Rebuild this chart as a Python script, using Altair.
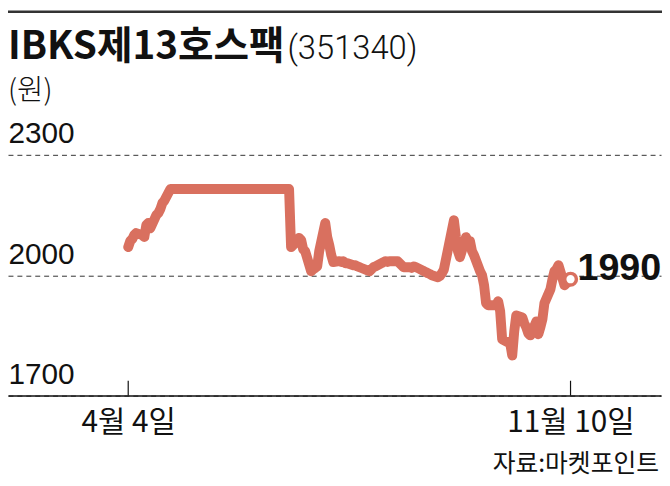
import altair as alt
import pandas as pd

# ---- data ----
dates = [
    "2022-04-04", "2022-04-05", "2022-04-06", "2022-04-07", "2022-04-08",
    "2022-04-11", "2022-04-12", "2022-04-13", "2022-04-14", "2022-04-15",
    "2022-04-18", "2022-04-19", "2022-04-20", "2022-04-21", "2022-04-22",
    "2022-04-25", "2022-06-23", "2022-06-24", "2022-06-27", "2022-06-28",
    "2022-06-29", "2022-06-30", "2022-07-01", "2022-07-04", "2022-07-05",
    "2022-07-06", "2022-07-07", "2022-07-08", "2022-07-11", "2022-07-12",
    "2022-07-13", "2022-07-14", "2022-07-15", "2022-07-18", "2022-07-19",
    "2022-07-20", "2022-07-21", "2022-07-22", "2022-07-25", "2022-07-26",
    "2022-07-27", "2022-07-28", "2022-07-29", "2022-08-01", "2022-08-02",
    "2022-08-03", "2022-08-04", "2022-08-05", "2022-08-08", "2022-08-09",
    "2022-08-10", "2022-08-11", "2022-08-12", "2022-08-16", "2022-08-17",
    "2022-08-18", "2022-08-19", "2022-08-22", "2022-08-23", "2022-08-24",
    "2022-08-25", "2022-08-26", "2022-08-29", "2022-08-30", "2022-08-31",
    "2022-09-01", "2022-09-02", "2022-09-05", "2022-09-06", "2022-09-07",
    "2022-09-08", "2022-09-13", "2022-09-14", "2022-09-15", "2022-09-16",
    "2022-09-19", "2022-09-20", "2022-09-21", "2022-09-22", "2022-09-23",
    "2022-09-26", "2022-09-27", "2022-09-28", "2022-09-29", "2022-09-30",
    "2022-10-04", "2022-10-05", "2022-10-06", "2022-10-07", "2022-10-11",
    "2022-10-12", "2022-10-13", "2022-10-14", "2022-10-17", "2022-10-18",
    "2022-10-19", "2022-10-20", "2022-10-21", "2022-10-24", "2022-10-25",
    "2022-10-26", "2022-10-27", "2022-10-28", "2022-10-31", "2022-11-01",
    "2022-11-02", "2022-11-03", "2022-11-04", "2022-11-07", "2022-11-08",
    "2022-11-09", "2022-11-10",
]
prices = [
    2070, 2085, 2090, 2100, 2105,
    2100, 2095, 2125, 2130, 2117,
    2150, 2155, 2165, 2180, 2186,
    2215, 2215, 2070, 2085, 2093,
    2088, 2065, 2060, 2010, 2015,
    2018, 2022, 2060, 2130, 2095,
    2075, 2050, 2033, 2035, 2033,
    2035, 2030, 2030, 2025, 2025,
    2022, 2020, 2018, 2012, 2010,
    2015, 2020, 2022, 2030, 2033,
    2035, 2033, 2035, 2035, 2030,
    2025, 2020, 2020, 2018, 2022,
    2020, 2018, 2010, 2008, 2005,
    2003, 2000, 1995, 1998, 2005,
    2014, 2137, 2095, 2060, 2045,
    2095, 2080, 2085, 2060, 2050,
    2010, 2000, 1975, 1930, 1925,
    1925, 1935, 1910, 1840, 1830,
    1800, 1860, 1900, 1895, 1880,
    1870, 1855, 1850, 1885, 1853,
    1870, 1890, 1930, 1965, 1990,
    2010, 2015, 2025, 1975, 1980,
    1985, 1990,
]
tick_dates = ["2022-04-04", "2022-11-10"]
y_ticks = [1700, 2000, 2300]
title_main = "IBKS제13호스팩"
title_code = "(351340)"
unit_label = "(원)"
source_label = "자료:마켓포인트"

LINE = "#D9705F"
SANS = "Liberation Sans, Arial, sans-serif"
LIGHT = "Roboto, Liberation Sans, sans-serif"
KR = "Noto Sans CJK KR, sans-serif"
W, H = 659, 243

df = pd.DataFrame({"date": dates, "price": prices})
last = df.tail(1).copy()
last["label"] = last["price"].astype(str)
ticks_df = pd.DataFrame({"date": tick_dates})

x_scale = alt.Scale(
    type="utc",
    domain=[alt.DateTime(year=2022, month=2, date=3, hours=5, utc=True),
            alt.DateTime(year=2022, month=12, date=25, utc=True)],
)
y_scale = alt.Scale(domain=[1700, 2300], nice=False, zero=False)

x_enc = alt.X(
    "date:T", scale=x_scale,
    axis=alt.Axis(
        title=None, grid=False, ticks=False, tickSize=0,
        values=[alt.DateTime(year=2022, month=4, date=4, utc=True),
                alt.DateTime(year=2022, month=11, date=10, utc=True)],
        labelExpr="utcFormat(datum.value, '%-m월 %-d일')",
        labelFont=KR, labelFontSize=30, labelColor="#111",
        labelPadding=12, labelBaseline="top", labelFlush=False,
        labelOverlap=False,
        domain=True, domainColor="#111", domainWidth=1.5,
    ),
)
y_enc = alt.Y(
    "price:Q", scale=y_scale,
    axis=alt.Axis(
        title=None, values=y_ticks, format="d", grid=True, gridDash=[5, 4],
        gridColor="#333", gridWidth=1, ticks=False, tickSize=0, domain=False,
        labelAlign="left", labelBaseline="alphabetic", labelPadding=0,
        labelOffset=-12, labelFont=SANS, labelFontSize=30, labelColor="#111",
        labelFlush=False, labelOverlap=False, labelBound=False,
    ),
)

line = alt.Chart(df).mark_line(
    color=LINE, strokeWidth=10, strokeCap="round", strokeJoin="round"
).encode(x=x_enc, y=y_enc)

tick_marks = alt.Chart(ticks_df).mark_rule(color="#111", strokeWidth=1.2).encode(
    x=alt.X("date:T", scale=x_scale), y=alt.value(H - 15), y2=alt.value(H)
)

end_pt = alt.Chart(last).mark_point(
    filled=True, fill="white", stroke=LINE, strokeWidth=3.5, size=140, opacity=1
).encode(x=alt.X("date:T", scale=x_scale), y=alt.Y("price:Q", scale=y_scale))

end_lbl = alt.Chart(last).mark_text(
    align="left", baseline="alphabetic", dx=7, dy=1,
    font=SANS, fontSize=38, fontWeight="bold", color="#111"
).encode(x=alt.X("date:T", scale=x_scale), y=alt.Y("price:Q", scale=y_scale),
         text="label:N")

def label_layer(text, x, y, size, weight="normal", font=KR, align="left"):
    d = pd.DataFrame({"t": [text]})
    return alt.Chart(d).mark_text(
        align=align, baseline="alphabetic", font=font, fontSize=size,
        fontWeight=weight, color="#111"
    ).encode(x=alt.value(x), y=alt.value(y), text="t:N")

top_rule = alt.Chart(pd.DataFrame({"t": [0]})).mark_rule(
    color="#333", strokeWidth=2.5
).encode(x=alt.value(0), x2=alt.value(W + 1), y=alt.value(-144.5))

title1 = label_layer(title_main, 0, -97, 39, "bold", KR)
title2 = label_layer(title_code, 282, -97, 33, 300, LIGHT)
unit = label_layer(unit_label, 0, -55, 29, 300, KR)
source = label_layer(source_label, 657, 320, 25, "normal", KR, "right")

chart = alt.layer(
    line, tick_marks, end_pt, end_lbl, top_rule, title1, title2, unit, source
).properties(
    width=W, height=H,
    autosize=alt.AutoSizeParams(type="none"),
    padding={"left": 0, "top": 146, "right": 1, "bottom": 85},
    background="white",
).configure_view(stroke=None)

chart.save("out.html", embed_options={"renderer": "svg", "actions": False})
